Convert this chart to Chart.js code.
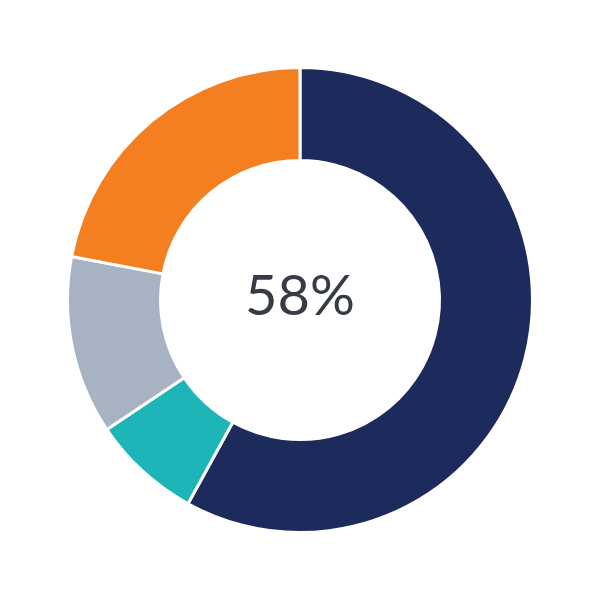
<!DOCTYPE html>
<html>
<head>
<meta charset="utf-8">
<script src="https://cdn.jsdelivr.net/npm/chart.js@4"></script>
<style>
  html, body { margin: 0; padding: 0; background: #fff; }
  #wrap { width: 600px; height: 600px; }
</style>
</head>
<body>
<div id="wrap"><canvas id="myChart"></canvas></div>
<script>
const labels = ["A", "B", "C", "D"];
const values = [58, 7.6, 12.4, 22];
const colors = ["#1c2b5b", "#1db5b7", "#a7b2c2", "#f47f20"];
const centerLabel = "58%";

// draws the big percentage in the hole
const centerText = {
  id: "centerText",
  afterDraw(chart) {
    const { ctx, chartArea } = chart;
    const x = (chartArea.left + chartArea.right) / 2;
    const y = (chartArea.top + chartArea.bottom) / 2;
    ctx.save();
    ctx.font = "400 56px Lato";
    ctx.fillStyle = "#363b45";
    ctx.textAlign = "center";
    ctx.textBaseline = "middle";
    ctx.fillText(centerLabel, x, y - 3);
    ctx.restore();
  }
};

const data = {
  labels: labels,
  datasets: [
    {
      data: values,
      backgroundColor: colors,
      borderColor: "#ffffff",
      borderWidth: 3,
    },
  ],
};

const config = {
  type: "doughnut",
  data: data,
  options: {
    cutout: "60%",
    animation: false,
    layout: { padding: 66 },
    plugins: {
      legend: { display: false },
      tooltip: { enabled: false },
    },
    responsive: true,
    maintainAspectRatio: false,
  },
  plugins: [centerText],
};

const myChart = new Chart(document.getElementById("myChart"), config);
</script>
</body>
</html>
